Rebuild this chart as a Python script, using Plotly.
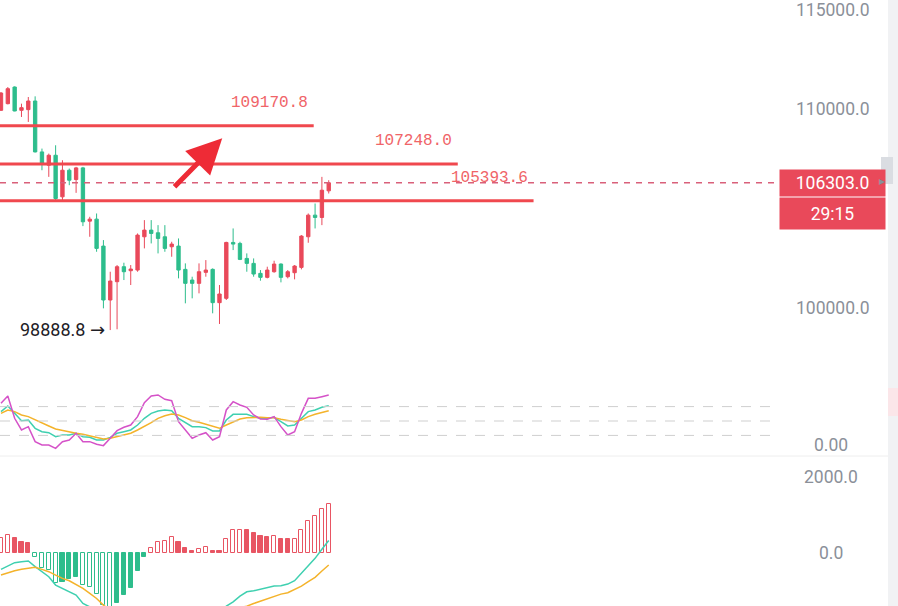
import plotly.graph_objects as go

# candle data (index 1..49)
idx = list(range(1, 50))
opens = [109950, 110285, 111122, 109950, 109984, 110419, 107856, 107186, 107688, 105595,
         106935, 106466, 107052, 104372, 104473, 103116, 100402, 101324, 102078, 101877,
         101910, 103585, 103920, 103786, 103585, 103083, 103116, 101944, 101407, 101240,
         101793, 101944, 100268, 100486, 103300, 103250, 102496, 102245, 101743, 101542,
         101826, 102212, 101575, 101776, 102044, 103585, 104674, 104557, 105897]
highs = [110870, 111122, 111155, 110285, 110620, 110654, 108024, 107772, 108191, 107437,
         107019, 107103, 107103, 104590, 104758, 103418, 101826, 102161, 102279, 102161,
         103752, 104423, 104423, 104171, 104171, 103334, 103501, 102245, 101575, 102245,
         102412, 101994, 101156, 103334, 104004, 103334, 102748, 102496, 101910, 102078,
         102379, 102245, 101910, 102161, 103669, 104758, 105260, 106600, 106432]
lows = [109917, 110250, 109900, 109615, 109364, 107830, 106935, 106600, 105428, 105344,
        106181, 105796, 104121, 103585, 102831, 99983, 98888.8, 98928, 101407, 101156,
        101826, 103000, 103250, 102748, 102831, 102580, 101491, 100235, 100486, 100737,
        101575, 99732, 99196, 100402, 102915, 102412, 101826, 101575, 101374, 101491,
        101776, 101290, 101491, 101441, 101944, 103284, 104004, 104171, 105763]
closes = [110821, 111039, 109917, 110084, 110419, 107856, 107270, 107688, 105511, 106935,
          106432, 107052, 104339, 104473, 103000, 100402, 101357, 102078, 101826, 101960,
          103669, 103920, 103752, 103501, 103000, 103217, 101910, 101240, 101240, 101826,
          101910, 100268, 100704, 103300, 103217, 102446, 102245, 101709, 101542, 101910,
          102212, 101542, 101826, 102111, 103619, 104674, 104557, 105930, 106303]

last_price = 106303.0
low_mark = 98888.8
low_idx = 17
countdown = "29:15"
price_ticks = [100000, 110000, 115000]

# drawn levels and where each line stops (in candle index units)
levels = [109170.8, 107248.0, 105393.6]
level_ends = [46.8, 67.9, 79.0]

# KDJ
k_vals = [69.5, 81.3, 66.0, 50.7, 52.1, 34.8, 27.8, 25.7, 17.4, 20.9,
          20.9, 24.4, 17.4, 16.0, 10.5, 10.5, 16.0, 24.4, 27.8, 31.3,
          41.7, 55.6, 66.0, 70.9, 73.0, 71.6, 55.6, 47.3, 38.2, 38.2,
          36.2, 29.2, 29.2, 52.1, 63.9, 63.9, 63.9, 59.1, 55.6, 55.6,
          57.7, 48.6, 39.6, 41.7, 55.6, 69.5, 73.0, 78.5, 82.0]
d_vals = [66.0, 73.0, 69.5, 62.5, 59.1, 52.1, 45.2, 39.6, 33.4, 29.9,
          26.4, 24.4, 22.3, 18.8, 16.0, 12.6, 13.9, 17.4, 20.9, 24.4,
          31.3, 38.2, 46.6, 55.6, 61.1, 64.6, 62.5, 57.0, 50.7, 47.3,
          43.1, 38.2, 34.8, 41.7, 48.6, 54.2, 57.0, 57.7, 57.7, 57.0,
          57.0, 53.5, 50.7, 48.6, 52.1, 59.1, 63.9, 68.1, 71.5]
j_vals = [86.8, 102.1, 55.6, 31.3, 38.2, 7.0, 0.1, 0.1, -6.9, 7.0,
          10.5, 24.4, 7.0, 7.0, 1.5, -1.3, 13.9, 29.9, 36.9, 41.7,
          59.1, 88.2, 102.1, 104.2, 95.1, 92.4, 48.6, 31.3, 13.9, 20.9,
          25.7, 10.5, 17.4, 73.0, 90.3, 83.4, 78.5, 62.5, 54.2, 53.5,
          59.1, 38.2, 20.9, 27.8, 66.0, 97.2, 97.2, 100.7, 104.2]
kdj_levels = [20, 50, 80]
kdj_ticks = [0]

# MACD
hist = [395, 482, 395, 307, 281, -88, -395, -438, -772, -745,
        -684, -631, -833, -877, -1070, -1360, -1450, -1298, -1096, -903,
        -465, -88, 145, 289, 333, 421, 289, 132, 70, 105,
        175, 70, 55, 377, 614, 620, 605, 544, 465, 430,
        465, 386, 377, 380, 614, 859, 982, 1166, 1289]
dif = [-421, -333, -246, -219, -202, -351, -482, -614, -833, -921,
       -1008, -1096, -1316, -1403, -1600, -1850, -2050, -2150, -2180, -2150,
       -2000, -1850, -1700, -1600, -1500, -1450, -1480, -1520, -1540, -1530,
       -1500, -1520, -1480, -1386, -1272, -1123, -1008, -982, -947, -903,
       -859, -851, -807, -719, -526, -307, -132, 105, 333]
dea = [-570, -509, -456, -421, -395, -368, -421, -482, -570, -658,
       -719, -816, -921, -1052, -1184, -1359, -1500, -1620, -1720, -1800,
       -1830, -1830, -1800, -1760, -1720, -1680, -1640, -1610, -1590, -1570,
       -1550, -1540, -1530, -1500, -1460, -1420, -1386, -1316, -1254, -1201,
       -1123, -1070, -1035, -947, -859, -745, -631, -465, -307]
macd_ticks = [2000, 0]

UP = "#e9495a"
DOWN = "#2dbd8c"
LEVEL_RED = "#f0484e"
GRAY = "#8b9099"
W, H = 898, 606
PLOT_W = 778
AXIS_FONT = dict(family="Roboto", size=17.5, color=GRAY)


def py(px):
    # pixel row -> paper y
    return 1 - px / H


def pxx(px):
    # pixel column -> paper x
    return px / PLOT_W


fig = go.Figure()

fig.add_trace(go.Candlestick(
    x=idx, open=opens, high=highs, low=lows, close=closes,
    increasing=dict(line=dict(color=UP, width=1), fillcolor=UP),
    decreasing=dict(line=dict(color=DOWN, width=1), fillcolor=DOWN),
    whiskerwidth=0, xaxis="x", yaxis="y", hoverinfo="skip"))

fig.add_trace(go.Scatter(x=idx, y=k_vals, mode="lines", line=dict(color="#3fd0b0", width=1.5), xaxis="x", yaxis="y2"))
fig.add_trace(go.Scatter(x=idx, y=d_vals, mode="lines", line=dict(color="#f4b32b", width=1.5), xaxis="x", yaxis="y2"))
fig.add_trace(go.Scatter(x=idx, y=j_vals, mode="lines", line=dict(color="#d552c8", width=1.5), xaxis="x", yaxis="y2"))

# hollow bar when the histogram grows in size, solid when it shrinks
fills, edges = [], []
for i, h in enumerate(hist):
    c = "#e85563" if h >= 0 else DOWN
    prev = hist[i - 1] if i > 0 else 0
    growing = i == 0 or (h * prev < 0) or abs(h) > abs(prev)
    fills.append("white" if growing else c)
    edges.append(c)
fig.add_trace(go.Bar(x=idx, y=hist, width=0.6, marker=dict(color=fills, line=dict(color=edges, width=1)),
                     xaxis="x", yaxis="y3"))
fig.add_trace(go.Scatter(x=idx, y=dif, mode="lines", line=dict(color="#3fd0b0", width=1.5), xaxis="x", yaxis="y3"))
fig.add_trace(go.Scatter(x=idx, y=dea, mode="lines", line=dict(color="#f4b32b", width=1.5), xaxis="x", yaxis="y3"))

shapes = []
for lv, end in zip(levels, level_ends):
    shapes.append(dict(type="line", xref="x", yref="y", x0=0, x1=end, y0=lv, y1=lv,
                       line=dict(color=LEVEL_RED, width=3)))
shapes.append(dict(type="line", xref="x domain", yref="y", x0=0, x1=1, y0=last_price, y1=last_price,
                   line=dict(color="#d9607a", width=1.5, dash="6px,6px")))
for lv in kdj_levels:
    shapes.append(dict(type="line", xref="x domain", yref="y2", x0=0, x1=1, y0=lv, y1=lv,
                       line=dict(color="#cfcfcf", width=1, dash="10px,9px")))
shapes.append(dict(type="line", xref="paper", yref="paper", x0=0, x1=pxx(888), y0=py(456), y1=py(456),
                   line=dict(color="#eeeeee", width=1)))
# right side strip + handle
shapes.append(dict(type="rect", xref="paper", yref="paper", x0=pxx(888), x1=pxx(898), y0=0, y1=1,
                   fillcolor="#f1f2f4", line=dict(width=0), layer="below"))
shapes.append(dict(type="rect", xref="paper", yref="paper", x0=pxx(888), x1=pxx(898), y0=py(416), y1=py(388),
                   fillcolor="#fbe6e9", line=dict(width=0)))
shapes.append(dict(type="rect", xref="paper", yref="paper", x0=pxx(881), x1=pxx(893), y0=py(184), y1=py(157),
                   fillcolor="#dadde2", line=dict(width=0)))

annotations = []
for lv, end in zip(levels, level_ends):
    annotations.append(dict(x=end, y=lv, xref="x", yref="y", text=f"{lv:.1f}", showarrow=False,
                            xanchor="right", yanchor="middle", xshift=-4, yshift=23,
                            font=dict(family="Liberation Mono", size=16, color="#f06468")))
annotations.append(dict(x=low_idx, y=low_mark, xref="x", yref="y",
                        text=f"{low_mark:.1f} <span style='font-family:DejaVu Sans'>→</span>",
                        showarrow=False, xanchor="right", yanchor="middle", xshift=-3, yshift=1,
                        font=dict(family="Roboto", size=18, color="#1e2026")))
annotations.append(dict(x=33.4, y=108543, ax=26.2, ay=106030, xref="x", yref="y", axref="x", ayref="y",
                        text="", showarrow=True, arrowhead=2, arrowsize=1.4, arrowwidth=5, arrowcolor="#ee2b36"))
annotations.append(dict(x=pxx(779), y=last_price, xref="paper", yref="y", text=f"{last_price:.1f}",
                        showarrow=False, xanchor="left", yanchor="middle", width=105, height=26,
                        bgcolor=UP, borderpad=0, align="center",
                        font=dict(family="Roboto", size=17.5, color="white")))
annotations.append(dict(x=pxx(779), y=last_price, xref="paper", yref="y", text=countdown,
                        showarrow=False, xanchor="left", yanchor="middle", yshift=-31, width=105, height=31,
                        bgcolor=UP, borderpad=0, align="center",
                        font=dict(family="Roboto", size=17.5, color="white")))
annotations.append(dict(x=pxx(887), y=py(170), xref="paper", yref="paper", text="▸", showarrow=False,
                        font=dict(size=12, color="#8b9099")))
# axis labels centred in the price column
for v in kdj_ticks:
    annotations.append(dict(x=pxx(831), y=v, xref="paper", yref="y2", text=f"{v:.2f}", showarrow=False,
                            xanchor="center", yanchor="middle", font=AXIS_FONT))
for v in macd_ticks:
    annotations.append(dict(x=pxx(831), y=v, xref="paper", yref="y3", text=f"{v:.1f}", showarrow=False,
                            xanchor="center", yanchor="middle", font=AXIS_FONT))

fig.update_layout(
    width=W, height=H, margin=dict(l=0, r=W - PLOT_W, t=0, b=0),
    paper_bgcolor="white", plot_bgcolor="white", showlegend=False,
    xaxis=dict(range=[0.854, 114.8], showgrid=False, zeroline=False, showticklabels=False,
               rangeslider=dict(visible=False), anchor="y3"),
    yaxis=dict(domain=[py(385), 1], range=[96124, 115503], side="right", anchor="x",
               tickvals=price_ticks, tickformat=".1f", showgrid=False, zeroline=False,
               ticks="", ticklabelstandoff=17, tickfont=AXIS_FONT),
    yaxis2=dict(domain=[py(456), py(385)], range=[-22.9, 125], side="right", anchor="x",
                showticklabels=False, showgrid=False, zeroline=False),
    yaxis3=dict(domain=[0, py(456)], range=[-1381, 2549], side="right", anchor="x",
                showticklabels=False, showgrid=False, zeroline=False),
    shapes=shapes, annotations=annotations, bargap=0,
)

fig.write_html("out.html", config={"displayModeBar": False},
               post_script="document.body.style.margin='0';")
